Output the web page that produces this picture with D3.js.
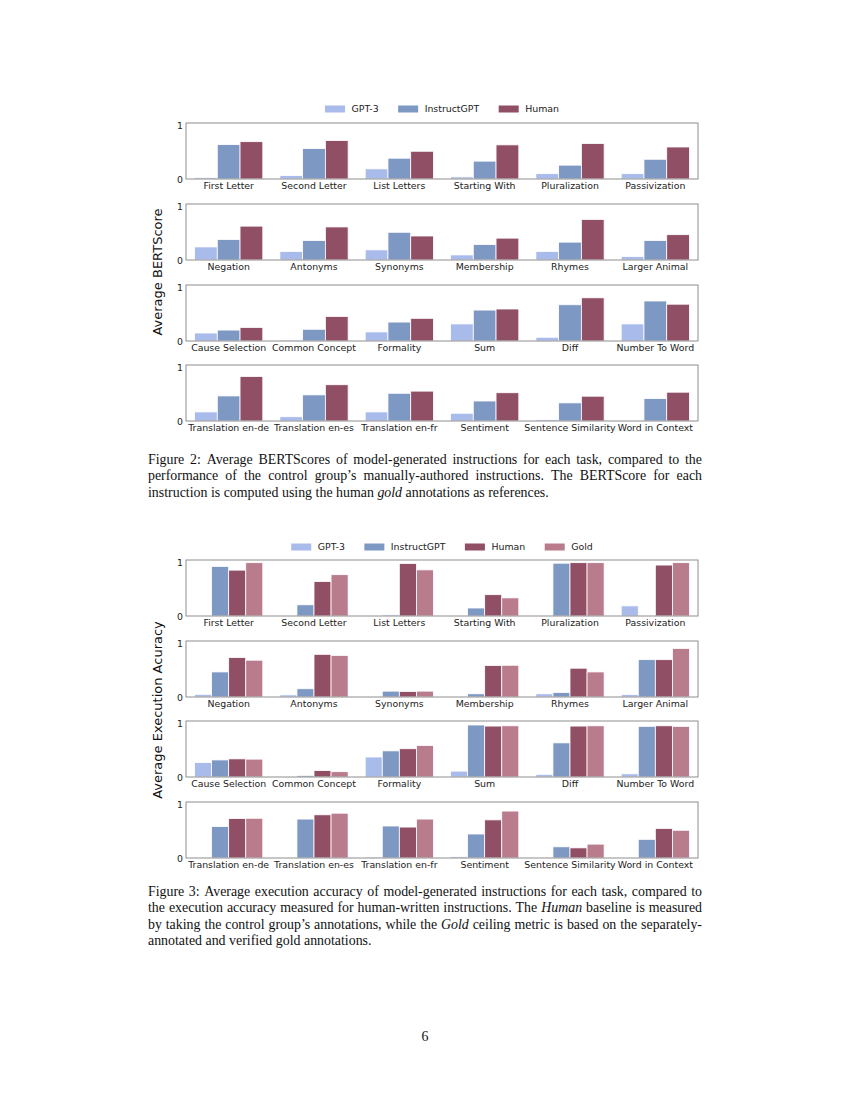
<!DOCTYPE html>
<html>
<head>
<meta charset="utf-8">
<script src="https://cdn.jsdelivr.net/npm/d3@7"></script>
<style>
  body { margin: 0; background: #fff; }
  svg { display: block; }
</style>
</head>
<body>
<div id="page"></div>
<script>
// task names, one row of six per panel
const taskRows = [
	['First Letter', 'Second Letter', 'List Letters', 'Starting With', 'Pluralization', 'Passivization'],
	['Negation', 'Antonyms', 'Synonyms', 'Membership', 'Rhymes', 'Larger Animal'],
	['Cause Selection', 'Common Concept', 'Formality', 'Sum', 'Diff', 'Number To Word'],
	['Translation en-de', 'Translation en-es', 'Translation en-fr', 'Sentiment', 'Sentence Similarity', 'Word in Context']
];

// Figure 2: BERTScore, same task order as taskRows
const bertGpt3 = [0.03, 0.065, 0.19, 0.04, 0.10, 0.10,
	0.245, 0.16, 0.19, 0.095, 0.16, 0.065,
	0.15, 0.02, 0.17, 0.32, 0.07, 0.32,
	0.17, 0.08, 0.17, 0.145, 0.025, 0];
const bertInstruct = [0.645, 0.57, 0.39, 0.335, 0.26, 0.37,
	0.385, 0.365, 0.52, 0.29, 0.335, 0.365,
	0.205, 0.22, 0.355, 0.58, 0.68, 0.75,
	0.47, 0.49, 0.52, 0.375, 0.34, 0.42];
const bertHuman = [0.70, 0.72, 0.52, 0.64, 0.665, 0.60,
	0.635, 0.62, 0.45, 0.41, 0.76, 0.475,
	0.255, 0.46, 0.425, 0.60, 0.81, 0.69,
	0.835, 0.68, 0.56, 0.53, 0.465, 0.54];

// Figure 3: execution accuracy
const execGpt3 = [0.01, 0, 0, 0, 0, 0.19,
	0.05, 0.04, 0.01, 0, 0.06, 0.045,
	0.27, 0, 0.375, 0.11, 0.05, 0.06,
	0.01, 0, 0.02, 0.025, 0, 0];
const execInstruct = [0.93, 0.21, 0.02, 0.15, 0.99, 0,
	0.47, 0.155, 0.11, 0.06, 0.085, 0.70,
	0.32, 0.03, 0.49, 0.975, 0.64, 0.95,
	0.59, 0.73, 0.60, 0.45, 0.21, 0.35];
const execHuman = [0.86, 0.645, 0.985, 0.40, 1.0, 0.955,
	0.74, 0.80, 0.105, 0.59, 0.54, 0.70,
	0.34, 0.12, 0.53, 0.955, 0.955, 0.96,
	0.74, 0.81, 0.58, 0.715, 0.19, 0.555];
const execGold = [1.0, 0.775, 0.865, 0.34, 1.0, 1.0,
	0.69, 0.78, 0.11, 0.595, 0.47, 0.91,
	0.335, 0.10, 0.59, 0.96, 0.96, 0.95,
	0.745, 0.84, 0.73, 0.88, 0.26, 0.52];

const seriesColors = {
	'GPT-3': '#a9bbea',
	'InstructGPT': '#7e98c4',
	'Human': '#914f65',
	'Gold': '#b97c8d'
};

const yTicks = [0, 1];

const fig2Caption = [
	'Figure 2: Average BERTScores of model-generated instructions for each task, compared to the',
	'performance of the control group\u2019s manually-authored instructions.  The BERTScore for each',
	'instruction is computed using the human _gold_ annotations as references.'
];
const fig3Caption = [
	'Figure 3: Average execution accuracy of model-generated instructions for each task, compared to',
	'the execution accuracy measured for human-written instructions. The _Human_ baseline is measured',
	'by taking the control group\u2019s annotations, while the _Gold_ ceiling metric is based on the separately-',
	'annotated and verified gold annotations.'
];

const width = 850;
const height = 1100;
const sansFont = 'DejaVu Sans, sans-serif';
const serifFont = 'Liberation Serif, Times New Roman, serif';

const svg = d3.select('#page')
	.append('svg')
	.attr('width', width)
	.attr('height', height);

const panelLeft = 186;
const panelWidth = 512;
const panelHeight = 56;

const drawFigure = (series, panelTops, legendY, yLabel, yLabelMid) => {
	const names = series.map(s => s.name);

	// legend, centred over the panels
	const legend = svg.append('g').attr('font-family', sansFont).attr('font-size', 9.4);
	const items = legend.selectAll('g')
		.data(names)
		.join('g');
	items.append('rect')
		.attr('y', legendY - 3.5)
		.attr('width', 20)
		.attr('height', 7)
		.attr('fill', d => seriesColors[d]);
	items.append('text')
		.attr('x', 26.5)
		.attr('y', legendY)
		.attr('dy', '0.35em')
		.attr('fill', '#222')
		.text(d => d);
	let offsets = [];
	let total = 0;
	items.each(function() {
		const w = 26.5 + this.querySelector('text').getComputedTextLength();
		offsets.push(total);
		total += w + 19.5;
	});
	total -= 19.5;
	const legendStart = panelLeft + panelWidth / 2 - total / 2;
	items.attr('transform', (d, i) => `translate(${legendStart + offsets[i]},0)`);

	const y = d3.scaleLinear()
		.domain([0, 1.05])
		.range([panelHeight, 0]);

	taskRows.forEach((tasks, row) => {
		const g = svg.append('g')
			.attr('transform', `translate(${panelLeft},${panelTops[row]})`);

		const x = d3.scaleBand()
			.domain(tasks)
			.range([0, panelWidth])
			.paddingInner(0.2)
			.paddingOuter(0.1);
		const xInner = d3.scaleBand()
			.domain(names)
			.range([0, x.bandwidth()]);

		const cells = [];
		tasks.forEach((t, i) => {
			series.forEach(s => {
				cells.push({ task: t, name: s.name, value: s.values[row * 6 + i] });
			});
		});

		g.selectAll('rect.bar')
			.data(cells.filter(c => c.value > 0))
			.join('rect')
			.attr('class', 'bar')
			.attr('x', d => x(d.task) + xInner(d.name))
			.attr('y', d => y(d.value))
			.attr('width', xInner.bandwidth())
			.attr('height', d => y(0) - y(d.value))
			.attr('fill', d => seriesColors[d.name])
			.attr('stroke', '#fff')
			.attr('stroke-width', 0.8);

		g.append('rect')
			.attr('width', panelWidth)
			.attr('height', panelHeight)
			.attr('fill', 'none')
			.attr('stroke', '#8e8e8e')
			.attr('stroke-width', 1);

		const xAxis = g.append('g')
			.attr('transform', `translate(0,${panelHeight})`)
			.call(d3.axisBottom(x).tickSize(0).tickPadding(3.5));
		xAxis.select('.domain').remove();
		xAxis.selectAll('text')
			.attr('font-family', sansFont)
			.attr('font-size', 9.4)
			.attr('fill', '#222');

		const yAxis = g.append('g')
			.call(d3.axisLeft(y).tickValues(yTicks).tickFormat(d3.format('d')).tickSize(0).tickPadding(3));
		yAxis.select('.domain').remove();
		yAxis.selectAll('text')
			.attr('font-family', sansFont)
			.attr('font-size', 9.4)
			.attr('fill', '#222');
	});

	svg.append('text')
		.attr('transform', `translate(157,${yLabelMid}) rotate(-90)`)
		.attr('text-anchor', 'middle')
		.attr('dy', '0.35em')
		.attr('font-family', sansFont)
		.attr('font-size', 13)
		.attr('fill', '#111')
		.text(yLabel);
};

// justified caption text, one word at a time
const drawCaption = (lines, firstBaseline) => {
	const left = 148;
	const right = 702;
	const g = svg.append('g')
		.attr('font-family', serifFont)
		.attr('font-size', 13.9)
		.attr('fill', '#111');
	lines.forEach((line, li) => {
		const yPos = firstBaseline + li * 16.4;
		const words = line.split(/ +/);
		const nodes = words.map(w => {
			const italic = w.startsWith('_');
			const parts = w.split('_');
			const t = g.append('text').attr('y', yPos);
			if (italic) {
				t.append('tspan').attr('font-style', 'italic').text(parts[1]);
				if (parts[2]) t.append('tspan').text(parts[2]);
			} else {
				t.text(w);
			}
			return t;
		});
		const widths = nodes.map(n => n.node().getComputedTextLength());
		const sum = d3.sum(widths);
		const last = li === lines.length - 1;
		const gap = last ? 3.5 : (right - left - sum) / (words.length - 1);
		let cx = left;
		nodes.forEach((n, i) => {
			n.attr('x', cx);
			cx += widths[i] + gap;
		});
	});
};

drawFigure([
	{ name: 'GPT-3', values: bertGpt3 },
	{ name: 'InstructGPT', values: bertInstruct },
	{ name: 'Human', values: bertHuman }
], [123, 204, 285, 365], 109, 'Average BERTScore', 272);

drawCaption(fig2Caption, 464);

drawFigure([
	{ name: 'GPT-3', values: execGpt3 },
	{ name: 'InstructGPT', values: execInstruct },
	{ name: 'Human', values: execHuman },
	{ name: 'Gold', values: execGold }
], [560, 641, 721, 802], 547, 'Average Execution Acuracy', 710);

drawCaption(fig3Caption, 896);

svg.append('text')
	.attr('x', 425)
	.attr('y', 1041)
	.attr('text-anchor', 'middle')
	.attr('font-family', serifFont)
	.attr('font-size', 13.9)
	.attr('fill', '#111')
	.text('6');
</script>
</body>
</html>
